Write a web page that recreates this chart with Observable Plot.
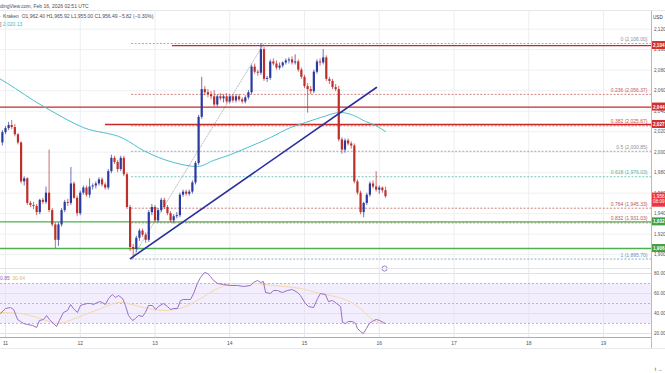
<!DOCTYPE html>
<html><head><meta charset="utf-8">
<script src="https://cdn.jsdelivr.net/npm/d3@7"></script>
<script src="https://cdn.jsdelivr.net/npm/@observablehq/plot@0.6"></script>
<style>
html,body{margin:0;padding:0;background:#fff}
body{width:665px;height:373px;overflow:hidden;position:relative;font-family:"Liberation Sans",Arial,sans-serif}
#price,#rsi{position:absolute;left:0}
#price{top:0}
#rsi{top:268px}
.t{position:absolute;font-size:5px;line-height:6px;white-space:nowrap;color:#4a4d57}
.ln{position:absolute;background:#d6d8de}
</style></head><body>
<div class="ln" style="left:0;top:10px;width:665px;height:1px;background:#e6e7eb"></div>
<div id="price"></div>
<div id="rsi"></div>
<div class="ln" style="left:0;top:268px;width:651px;height:1px;background:#e3e4e8"></div>
<div class="ln" style="left:0;top:348px;width:665px;height:1px;background:#e9eaee"></div>
<div class="ln" style="left:651px;top:11px;width:1px;height:337px;background:#b8bac2"></div>
<div class="t" style="left:0;top:3px">dingView.com, Feb 16, 2026 02:51 UTC</div>
<div class="t" style="left:0;top:13px">· Kraken&nbsp; O1,962.40 H1,965.92 L1,955.00 C1,956.49 −5.82 (−0.30%)</div>
<div class="t" style="left:0;top:21px">] <span style="color:#3fb8c6">2,020.13</span></div>
<div class="t" style="left:0;top:275px"><span style="color:#8e63c4">0.85</span>&nbsp; <span style="color:#e8b860">30.64</span></div>
<div class="t" style="left:653px;top:15px;color:#333;font-size:4.6px">USD</div>
<script>
// ---------- data ----------
const firstCandleHour = -1; // hourly candles, hours after 2026-02-11 00:00 UTC
const candleOpen = [2009,2019,2023,2026,2024,2017,2009,1971,1974,1950,
1948,1947,1941,1953,1951,1960,1943,1929,1914,1929,
1943,1951,1950,1969,1955,1940,1960,1965,1958,1966,
1967,1969,1973,1968,1965,1981,1994,1990,1983,1994,
1978,1946,1907,1905,1916,1923,1919,1914,1941,1946,
1933,1943,1953,1946,1940,1933,1937,1938,1958,1961,
1959,1961,1970,1989,2034,2061,2058,2056,2054,2046,
2054,2052,2054,2049,2054,2050,2054,2051,2049,2053,
2058,2083,2078,2077,2100,2071,2072,2088,2086,2082,
2084,2087,2089,2090,2087,2088,2080,2073,2064,2061,
2059,2078,2088,2087,2092,2071,2069,2063,2061,2012,
2002,2011,2008,2006,1971,1960,1941,1950,1958,1969,
1966,1963,1965,1962.40];
const candleHigh = [2021,2025,2029,2031,2027,2018,2010,1976,1975,1952,
1951,1949,1954,1955,1966,2002,1945,1931,1931,1945,
1953,1954,1985,1971,1957,1962,1967,1967,1974,1969,
1971,1975,1975,1970,1983,1997,1996,1992,1996,1996,
1980,1948,1910,1918,1925,1925,1921,1943,1949,1948,
1945,1955,1955,1948,1942,1939,1941,1960,1963,1963,
1963,1972,1991,2036,2073,2064,2061,2059,2060,2056,
2057,2056,2057,2056,2056,2056,2056,2053,2055,2060,
2085,2086,2080,2106,2102,2074,2090,2091,2089,2087,
2088,2091,2092,2093,2095,2090,2082,2075,2067,2064,
2080,2090,2091,2100,2094,2073,2071,2066,2064,2014,
2013,2013,2010,2008,1973,1962,1951,1960,1971,1972,
1981,1967,1966,1965.92];
const candleLow = [2006,2017,2021,2022,2015,2007,1969,1967,1948,1946,
1944,1938,1939,1949,1949,1941,1927,1906,1908,1927,
1941,1947,1948,1954,1937,1938,1958,1956,1955,1963,
1964,1967,1966,1963,1963,1979,1988,1980,1981,1976,
1944,1903,1895.7,1902,1913,1917,1911,1912,1938,1931,
1931,1941,1944,1938,1931,1930,1935,1936,1956,1957,
1957,1959,1968,1987,2032,2055,2053,2051,2044,2044,
2050,2048,2047,2047,2048,2048,2049,2047,2047,2051,
2056,2076,2074,2075,2069,2068,2070,2084,2080,2080,
2082,2085,2086,2085,2085,2078,2071,2062,2038,2056,
2057,2076,2084,2085,2069,2066,2061,2059,2010,1998,
1999,2006,2003,1969,1958,1939,1936,1948,1956,1964,
1961,1959,1960,1955.00];
const candleClose = [2019,2023,2026,2024,2017,2009,1971,1974,1950,1948,
1947,1941,1953,1951,1960,1943,1929,1914,1929,1943,
1951,1950,1969,1955,1940,1960,1965,1958,1966,1967,
1969,1973,1968,1965,1981,1994,1990,1983,1994,1978,
1946,1907,1905,1916,1923,1919,1914,1941,1946,1933,
1943,1953,1946,1940,1933,1937,1938,1958,1961,1959,
1961,1970,1989,2034,2061,2058,2056,2054,2046,2054,
2052,2054,2049,2054,2050,2054,2051,2049,2053,2058,
2083,2078,2077,2100,2071,2072,2088,2086,2082,2084,
2087,2089,2090,2087,2088,2080,2073,2064,2061,2059,
2078,2088,2087,2092,2071,2069,2063,2061,2012,2002,
2011,2008,2006,1971,1960,1941,1950,1958,1969,1966,
1963,1965,1962.40,1956.49];

const maHours  = [-2,3.2,9,14.5,25,37.9,44.3,54,61.7,66.8,72.3,77.7,85.1,91.5,96.3,101.2,107.6,111.8,115.6,118.8,122];
const maValues = [2072,2062.1,2050.4,2040.6,2024.0,2013.3,2001.6,1989.9,1986.0,1991.9,1997.7,2004.5,2014.3,2024.0,2028.9,2033.8,2038.7,2035.8,2029.9,2026.0,2020.13];

const fibRatios = ["0","0.236","0.382","0.5","0.618","0.764","0.832","1"];
const fibPrices = [2106.00,2056.37,2025.67,2000.85,1976.03,1945.33,1931.03,1895.70];
const fibColors = ["#8d9099","#c85a5a","#d94848","#8d9099","#52b3a6","#b85757","#b85757","#6b8fc2"];
const fibStartHour = 40.5, fibHighHour = 83;

const levelPrices = [2104, 2044, 2027, 1932, 1906];
const levelLabels = ["2,104","2,044","2,027","1,932","1,906"];
const levelStartHours = [53.6, -2, 32.1, -2, -2];
const levelColors = ["#c62828","#c62828","#c62828","#4caf50","#4caf50"];
const levelTagColors = ["#d32f2f","#d32f2f","#d32f2f","#43a047","#43a047"];

const trendHours = [40.1, 119.1];
const trendPrices = [1896.2, 2063.1];

const priceTicks = [1900,1920,1940,1960,1980,2000,2020,2040,2060,2080,2100,2120];
const dayTicks = [11,12,13,14,15,16,17,18,19];
const lastPrice = 1956.49, lastLabel = "1,956\n08:09";

const rsiHours = [-1.6,0,1.6,2.6,3.9,4.8,5.8,7.1,8.7,10,
10.9,12.2,13.2,14.1,15.4,16.4,17.3,18.6,19.9,20.9,
21.8,23.1,24.1,25,26.3,27.3,28.3,29.5,30.5,32.1,
33.1,34.3,35.3,36.3,37.6,38.5,39.5,40.8,41.7,42.7,
44,44.9,45.9,47.2,48.2,49.1,50.7,52,53,53.9,
55.2,56.2,57.1,58.4,59.4,60.4,61.6,62.6,63.9,64.9,
65.8,66.8,68.1,70,72.2,74.5,76.4,78.7,79.6,80.9,
81.9,82.8,83.5,85.1,86,87.3,88.9,90.5,92.1,93.8,
94.7,96.3,97.3,98.9,100.2,101.1,102.7,103.7,105,106.3,
107.6,108.2,109.2,110.1,111.4,112.4,113,114,114.9,115.9,
116.8,118.2,119.1,120.1,121.4,122];
const rsiValues = [40,45,46,44,34,32,30,29,28,26,
33,34,38,34,30,27,33,41,43,49,
45,41,48,49,50,50,49,51,52,49,
55,59,56,58,55,48,38,33,35,38,
37,41,48,48,44,47,50,47,44,45,
45,53,54,54,54,60,70,76,81,80,
77,73,70,69,68,68,67,68,71,73,
71,72,61,60,63,63,61,63,64,61,
58,50,47,46,55,60,59,52,53,50,
47,31,30,32,32,30,25,22,20,25,
30,33,34,33,31,30];
const rsiMaHours  = [-1.6,4.8,11.2,16.7,23.1,30.5,36.9,44.3,50.7,57.1,62.6,68.1,73.2,79.6,86,94.7,101.1,104.3,109.8,114,118.2,121.4];
const rsiMaValues = [41,40,35,30,36,45,51,46,43,46,55,65,70,70,68,65,60,58,53,45,33,30];
const rsiTicks = [20,40,60,80];
const rsiBands = [70,50,30];

// ---------- helpers ----------
const base = Date.UTC(2026,1,11);
const H = h => new Date(base + h*3600e3);
const pxPerHour = 74.75/24;
const xMin = H(-5/pxPerHour), xMax = H((651-5)/pxPerHour), xEdge = H((667-5)/pxPerHour);
const xDomain = [xMin, xMax];
const fmt = d3.format(",");
const UP = "#2b3a9e", DOWN = "#bd2f2b";

const candles = candleOpen.map((o,i)=>({t:H(firstCandleHour+i), o, h:candleHigh[i], l:candleLow[i], c:candleClose[i]}));
const ma = maHours.map((h,i)=>({t:H(h), v:maValues[i]}));
const fib = fibRatios.map((r,i)=>({r, p:fibPrices[i], color:fibColors[i],
  label:`${r} (${d3.format(",.2f")(fibPrices[i])})`}));
const levels = levelPrices.map((p,i)=>({p, label:levelLabels[i], from:H(levelStartHours[i]), color:levelColors[i], tag:levelTagColors[i]}));
const trend = trendHours.map((h,i)=>({t:H(h), p:trendPrices[i]}));
const fibDiag = [{t:H(fibStartHour), p:fibPrices[7]},{t:H(fibHighHour), p:fibPrices[0]}];
const days = dayTicks.map(d=>new Date(Date.UTC(2026,1,d)));

const priceChart = Plot.plot({
  width:665, height:268, marginLeft:0, marginRight:14, marginTop:10, marginBottom:0,
  style:{background:"transparent", fontFamily:"Liberation Sans, Arial, sans-serif"},
  x:{type:"utc", domain:xDomain, axis:null},
  y:{domain:[1886.5,2138.2], axis:null},
  marks:[
    Plot.ruleY(priceTicks, {y:d=>d, x1:xMin, x2:xMax, stroke:"#eff0f3"}),
    Plot.ruleX(days, {x:d=>d, stroke:"#eceef2"}),
    Plot.ruleY(fib, {y:"p", x1:()=>H(fibStartHour), x2:()=>xMax, stroke:"color", strokeDasharray:"2,1.6", strokeOpacity:0.75}),
    Plot.line(fibDiag, {x:"t", y:"p", stroke:"#a9acb4", strokeDasharray:"1.2,1.5", strokeWidth:0.8}),
    Plot.ruleY(levels, {y:"p", x1:"from", x2:()=>xMax, stroke:"color", strokeWidth:1.3}),
    Plot.line(ma, {x:"t", y:"v", stroke:"#4cbfcd", strokeWidth:1, curve:"monotone-x"}),
    Plot.ruleX(candles, {x:"t", y1:"l", y2:"h", stroke:d=>d.c>=d.o?UP:DOWN, strokeWidth:0.7}),
    Plot.ruleX(candles, {x:"t", y1:"o", y2:"c", stroke:d=>d.c>=d.o?UP:DOWN, strokeWidth:2.2}),
    Plot.line(trend, {x:"t", y:"p", stroke:"#2a2f9e", strokeWidth:1.6}),
    Plot.text(fib, {x:()=>H((647-5)/pxPerHour), y:"p", text:"label", textAnchor:"end", lineAnchor:"bottom", dy:-2.5, fill:"color", fontSize:5}),
    Plot.text(priceTicks, {x:()=>xMax, y:d=>d, text:d=>fmt(d), textAnchor:"start", dx:2.5, fill:"#50535e", fontSize:4.6}),
    Plot.rect(levels, {x1:()=>xMax, x2:()=>xEdge, y1:d=>d.p-3.9, y2:d=>d.p+3.9, fill:"tag"}),
    Plot.text(levels, {x:()=>xMax, y:"p", text:"label", textAnchor:"start", dx:1.5, fill:"white", fontSize:4.6, fontWeight:"bold"}),
    Plot.rect([lastPrice], {x1:()=>xMax, x2:()=>xEdge, y1:d=>d-10.2, y2:d=>d+3.6, fill:"#ef3340"}),
    Plot.text([lastPrice], {x:()=>xMax, y:d=>d, text:()=>lastLabel, textAnchor:"start", lineAnchor:"top", dy:-2.6, dx:1.5, lineHeight:1.15, fill:"white", fontSize:4.6})
  ]
});
document.getElementById("price").append(priceChart);

const rsi = rsiHours.map((h,i)=>({t:H(h), v:rsiValues[i]}));
const rsiMa = rsiMaHours.map((h,i)=>({t:H(h), v:rsiMaValues[i]}));

const rsiChart = Plot.plot({
  width:665, height:105, marginLeft:0, marginRight:14, marginTop:0, marginBottom:36,
  style:{background:"transparent", overflow:"visible", fontFamily:"Liberation Sans, Arial, sans-serif"},
  x:{type:"utc", domain:xDomain, axis:null},
  y:{domain:[20,80], range:[65,5], axis:null},
  marks:[
    Plot.rect([0], {x1:()=>xMin, x2:()=>xMax, y1:()=>30, y2:()=>70, fill:"#8a5cf0", fillOpacity:0.1}),
    Plot.ruleY(rsiTicks, {y:d=>d, stroke:"#e4dcf3"}),
    Plot.ruleX(days, {x:d=>d, stroke:"#e8e4f0"}),
    Plot.ruleY(rsiBands, {y:d=>d, stroke:"#a39bb3", strokeDasharray:"2,2", strokeOpacity:0.7}),
    Plot.line(rsiMa, {x:"t", y:"v", stroke:"#f5d9a6", strokeWidth:1, curve:"monotone-x"}),
    Plot.line(rsi, {x:"t", y:"v", stroke:"#9a6fc6", strokeWidth:1}),
    Plot.frame({anchor:"bottom", stroke:"#a9abb3"}),
    Plot.axisX(days, {anchor:"bottom", tickSize:0, tickPadding:3.5, tickFormat:d=>d.getUTCDate(), fontSize:5, fill:"#50535e"}),
    Plot.text(rsiTicks, {x:()=>xMax, y:d=>d, text:d=>d3.format(".2f")(d), textAnchor:"start", dx:2.5, fill:"#50535e", fontSize:4.6}),
    Plot.dot([0], {x:()=>H(121.7), y:()=>85, r:2.6, stroke:"#8e63c4", strokeWidth:0.8, fill:"white"})
  ]
});
document.getElementById("rsi").append(rsiChart);
</script>
</body></html>
